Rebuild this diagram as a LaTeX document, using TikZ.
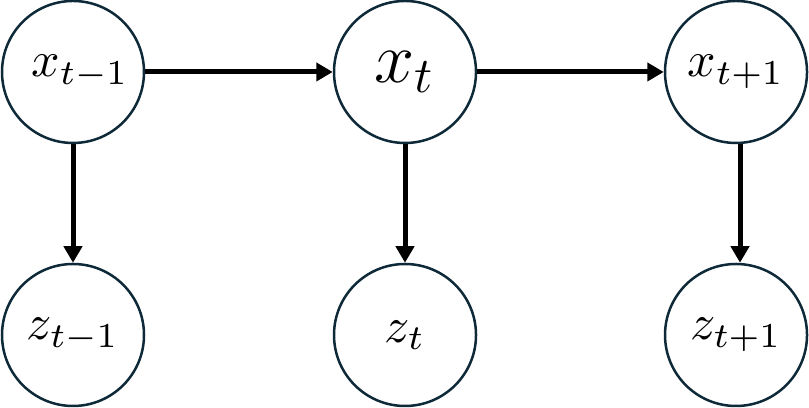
\documentclass[tikz,border=0pt]{standalone}
\usetikzlibrary{arrows.meta}
\definecolor{ringcol}{RGB}{14,41,56}
\begin{document}
\begin{tikzpicture}[x=0.2pt,y=-0.2pt,
  var/.style={circle,draw=ringcol,line width=0.5pt,minimum size=28.4pt,inner sep=0pt,fill=white},
  edge/.style={line width=1pt,-{Triangle[length=3.3pt,width=3.6pt]}}]
\useasboundingbox (0,0) rectangle (809,408);
\node[var] (x1) at (73,72) {\hspace{2.8pt}$x_{t-1}$};
\node[var] (x2) at (405,72) {\Large $x_t$};
\node[var] (x3) at (736,72) {$x_{t+1}$};
\node[var] (z1) at (73,335) {$z_{t-1}$};
\node[var] (z2) at (405,335) {$z_t$};
\node[var] (z3) at (736,335) {$z_{t+1}$};
\draw[edge] (x1) -- (x2);
\draw[edge] (x2) -- (x3);
\draw[edge] (x1) -- (z1);
\draw[edge] (x2) -- (z2);
\draw[edge] ([xshift=0.8pt]x3.south) -- ([xshift=0.8pt]z3.north);
\end{tikzpicture}
\end{document}
